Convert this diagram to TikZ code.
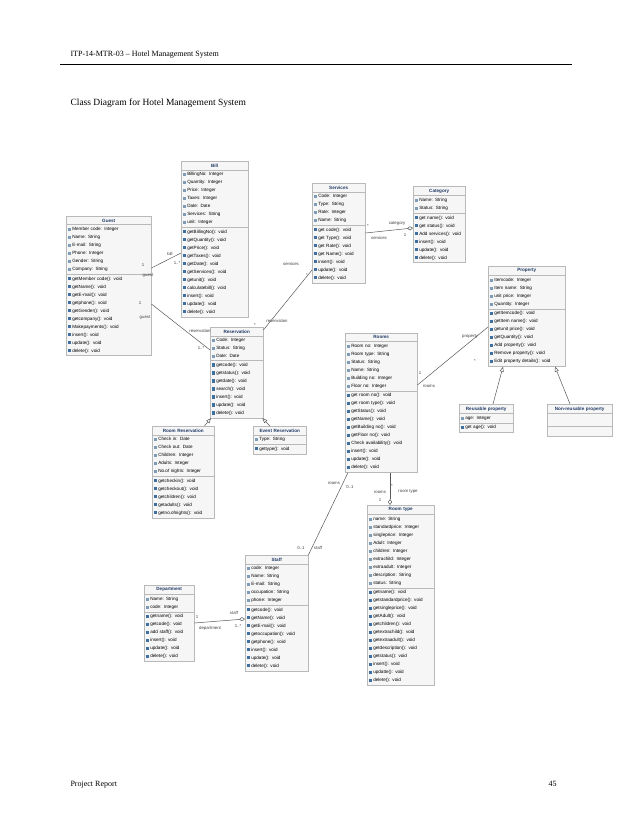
\documentclass[tikz,border=0pt]{standalone}
\usepackage{fontspec}
\setmainfont{Liberation Serif}
\newfontfamily\umlfont{Liberation Sans}
\usetikzlibrary{shapes.multipart,arrows.meta}
\definecolor{icA}{HTML}{7C9CB8}
\definecolor{icM}{HTML}{3E6FA0}
\definecolor{ttl}{HTML}{1F3A66}
\newcommand\ai{\textcolor{icA}{\rule[-0.2pt]{3.4pt}{2.8pt}}\hspace{1.2pt}}
\newcommand\mi{\textcolor{icM}{\rule[-0.2pt]{3.4pt}{3.2pt}}\hspace{1.2pt}}
\newcommand\uclass[6]{%
  \node[umlbox, text width=#3pt-3pt, anchor=north west] (#1) at (#2)
   {\makebox[\linewidth][c]{\textbf{\textcolor{ttl}{#4}}}\nodepart{second}#5\nodepart{third}#6};}
\tikzset{
  x=1pt,y=-1pt,
  umlbox/.style={rectangle split, rectangle split parts=3, draw=gray!55, fill=gray!7,
    line width=0.4pt, inner xsep=1.5pt, inner ysep=2.4pt, align=left,
    font=\umlfont\fontsize{4.6}{8}\selectfont, text=black!75},
  assoc/.style={draw=gray!70!black, line width=0.5pt},
  lbl/.style={font=\umlfont\fontsize{4.3}{5}\selectfont, text=black!75, inner sep=0pt}
}
\begin{document}
\begin{tikzpicture}
\useasboundingbox (0,0) rectangle (638,826);
\fill[white] (0,0) rectangle (638,826);
\node[anchor=base west, font=\fontsize{8}{9}\selectfont] (hdr) at (67,57) {ITP-14-MTR-03 -- Hotel Management System};
\draw[line width=0.6pt] (60,64) -- (572,64);
\node[anchor=base west, font=\fontsize{9.5}{11}\selectfont] (ttlnode) at (67,106) {Class Diagram for Hotel Management System};
\node[anchor=base west, font=\fontsize{8}{9}\selectfont] (ftr) at (67,786) {Project Report};
\node[anchor=base west, font=\fontsize{8}{9}\selectfont] (pg) at (545,786) {45};

\uclass{guest}{66,216}{85}{Guest}
 {\ai Member code: Integer\\\ai Name: String\\\ai E-mail: String\\\ai Phone: Integer\\\ai Gender: String\\\ai Company: String}
 {\mi getMember code(): void\\\mi getName(): void\\\mi getE-mail(): void\\\mi getphone(): void\\\mi getGender(): void\\\mi getcompany(): void\\\mi Makepayments(): void\\\mi insert(): void\\\mi update(): void\\\mi delete(): void}
\uclass{bill}{181,161}{67}{Bill}
 {\ai BillingNo: Integer\\\ai Quantity: Integer\\\ai Price: Integer\\\ai Taxes: Integer\\\ai Date: Date\\\ai Services: String\\\ai unit: Integer}
 {\mi getBillingNo(): void\\\mi getQuantity(): void\\\mi getPrice(): void\\\mi getTaxes(): void\\\mi getDate(): void\\\mi getServices(): void\\\mi getunit(): void\\\mi calculatebill(): void\\\mi insert(): void\\\mi update(): void\\\mi delete(): void}
\uclass{serv}{312,183}{53}{Services}
 {\ai Code: Integer\\\ai Type: String\\\ai Rate: Integer\\\ai Name: String}
 {\mi get code(): void\\\mi get Type(): void\\\mi get Rate(): void\\\mi get Name(): void\\\mi insert(): void\\\mi update(): void\\\mi delete(): void}
\uclass{cat}{413,186}{52}{Category}
 {\ai Name: String\\\ai Status: String}
 {\mi get name(): void\\\mi get status(): void\\\mi Add services(): void\\\mi insert(): void\\\mi update(): void\\\mi delete(): void}
\uclass{prop}{488,266}{77}{Property}
 {\ai Itemcode: Integer\\\ai Item name: String\\\ai unit price: Integer\\\ai Quantity: Integer}
 {\mi getItemcode(): void\\\mi getItem name(): void\\\mi getunit price(): void\\\mi getQuantity(): void\\\mi Add property(): void\\\mi Remove property(): void\\\mi Edit property details(): void}
\uclass{reus}{459,404}{54}{Reusable property}
 {\ai age: Integer}
 {\mi get age(): void}
\uclass{nonreus}{547,404}{65}{Non-reusable property}
 {\rule{0pt}{7pt}}
 {\rule{0pt}{5pt}}
\uclass{res}{210,327}{53}{Reservation}
 {\ai Code: Integer\\\ai Status: String\\\ai Date: Date}
 {\mi getcode(): void\\\mi getstatus(): void\\\mi getdate(): void\\\mi search(): void\\\mi insert(): void\\\mi update(): void\\\mi delete(): void}
\uclass{roomres}{152,426}{62}{Room Reservation}
 {\ai Check in: Date\\\ai Check out: Date\\\ai Children: Integer\\\ai Adults: Integer\\\ai No.of nights: Integer}
 {\mi getcheckin(): void\\\mi getcheckout(): void\\\mi getchildren(): void\\\mi getadults(): void\\\mi getno.ofnights(): void}
\uclass{event}{253,426}{53}{Event Reservation}
 {\ai Type: String}
 {\mi gettype(): void}
\uclass{rooms}{345,333}{72}{Rooms}
 {\ai Room no: Integer\\\ai Room type: String\\\ai Status: String\\\ai Name: String\\\ai Building no: Integer\\\ai Floor no: Integer}
 {\mi get room no(): void\\\mi get room type(): void\\\mi getStatus(): void\\\mi getName(): void\\\mi getBuilding no(): void\\\mi getFloor no(): void\\\mi Check availability(): void\\\mi insert(): void\\\mi update(): void\\\mi delete(): void}
\uclass{rtype}{367,505}{67}{Room type}
 {\ai name: String\\\ai standardprice: Integer\\\ai singleprice: Integer\\\ai Adult: Integer\\\ai children: Integer\\\ai extrachild: Integer\\\ai extraadult: Integer\\\ai description: String\\\ai status: String}
 {\mi getname(): void\\\mi getstandardprice(): void\\\mi getsingleprice(): void\\\mi getAdult(): void\\\mi getchildren(): void\\\mi getextrachild(): void\\\mi getextraadult(): void\\\mi getdescription(): void\\\mi getstatus(): void\\\mi insert(): void\\\mi updatte(): void\\\mi delete(): void}
\uclass{staff}{245,555}{63}{Staff}
 {\ai code: Integer\\\ai Name: String\\\ai E-mail: String\\\ai occupation: String\\\ai phone: Integer}
 {\mi getcode(): void\\\mi getName(): void\\\mi getE-mail(): void\\\mi getoccupation(): void\\\mi getphone(): void\\\mi insert(): void\\\mi update(): void\\\mi delete(): void}
\uclass{dept}{144,585}{50}{Department}
 {\ai Name: String\\\ai code: Integer}
 {\mi getname(): void\\\mi getcode(): void\\\mi add staff(): void\\\mi insert(): void\\\mi update(): void\\\mi delete(): void}

% connectors
\draw[assoc] ([yshift=-52pt]guest.north east) -- ([yshift=-92pt]bill.north west);
\draw[assoc] ([yshift=-88pt]guest.north east) -- ([yshift=-23pt]res.north west);
\draw[assoc] ([yshift=-3pt]res.north east) -- ([yshift=-87pt]serv.north west);
\draw[assoc, -{Diamond[open,length=6pt,width=4pt]}] ([yshift=-50pt]serv.north east) -- ([yshift=-42pt]cat.north west);
\draw[assoc] ([yshift=-52pt]rooms.north east) -- ([yshift=-61pt]prop.north west);
\draw[assoc, -{Triangle[open,length=5pt,width=4pt]}] ([xshift=34pt]reus.north west) -- ([xshift=15pt]prop.south west);
\draw[assoc, -{Triangle[open,length=5pt,width=4pt]}] ([xshift=23pt]nonreus.north west) -- ([xshift=67pt]prop.south west);
\draw[assoc, -{Triangle[open,length=5pt,width=4pt]}] ([xshift=-10pt]roomres.north east) -- ([xshift=1pt]res.south west);
\draw[assoc, -{Triangle[open,length=5pt,width=4pt]}] ([xshift=17pt]event.north west) -- ([xshift=-1pt]res.south east);
\draw[assoc] ([xshift=3pt]rooms.south west) -- (staff.north east);
\draw[assoc, -{Diamond[open,length=6pt,width=4pt]}] ([xshift=45pt]rooms.south west) -- ([xshift=23pt]rtype.north west);
\draw[assoc, -{Diamond[open,length=6pt,width=4pt]}] ([yshift=-38pt]dept.north east) -- ([yshift=-64pt]staff.north west);

% labels
\node[lbl] (l1) at (170,254) {bill};
\node[lbl] (l2) at (177,263) {1..*};
\node[lbl] (l3) at (143,265) {1};
\node[lbl] (l4) at (148,276) {guest};
\node[lbl] (l5) at (140,303) {1};
\node[lbl] (l6) at (145,318) {guest};
\node[lbl] (l7) at (200,331) {reservation};
\node[lbl] (l8) at (201,348) {1..*};
\node[lbl] (l9) at (277,321) {reservation};
\node[lbl] (l10) at (255,325) {*};
\node[lbl] (l11) at (291,264) {services};
\node[lbl] (l12) at (307,275) {*};
\node[lbl] (l13) at (368,226) {*};
\node[lbl] (l14) at (397,224) {category};
\node[lbl] (l15) at (379,238) {services};
\node[lbl] (l16) at (405,235) {1};
\node[lbl] (l17) at (420,373) {1};
\node[lbl] (l18) at (429,386) {rooms};
\node[lbl] (l19) at (470,337) {property};
\node[lbl] (l20) at (475,361) {*};
\node[lbl] (l21) at (334,483) {rooms};
\node[lbl] (l22) at (350,487) {0..1};
\node[lbl] (l23) at (301,548) {0..1};
\node[lbl] (l24) at (318,548) {staff};
\node[lbl] (l25) at (392,486) {*};
\node[lbl] (l26) at (380,492) {rooms};
\node[lbl] (l27) at (408,492) {room type};
\node[lbl] (l28) at (380,500) {1};
\node[lbl] (l29) at (197,617) {1};
\node[lbl] (l30) at (234,613) {staff};
\node[lbl] (l31) at (210,628) {department};
\node[lbl] (l32) at (238,626) {1..*};
\end{tikzpicture}
\end{document}
